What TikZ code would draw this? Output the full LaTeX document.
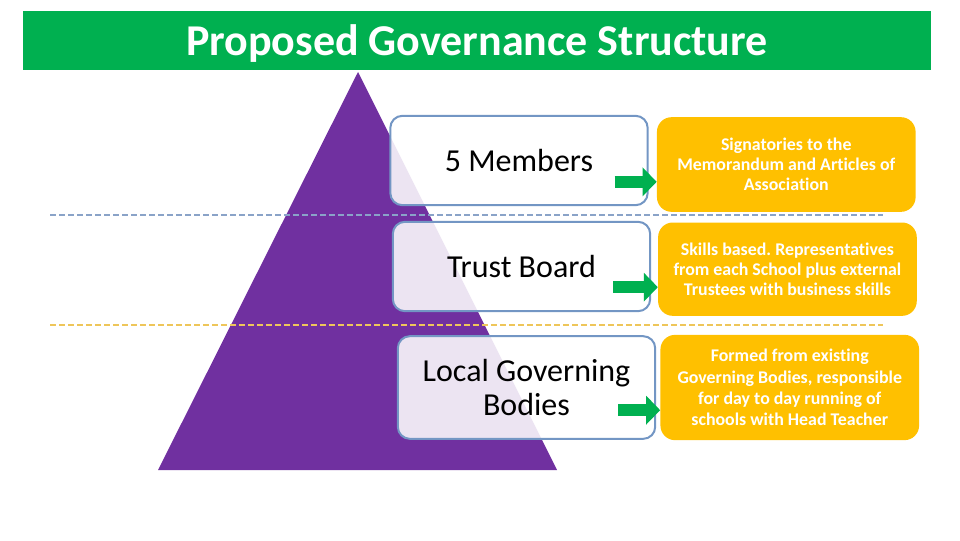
\documentclass[tikz,border=0pt]{standalone}
\usepackage{fontspec}
\setmainfont[Ligatures={NoCommon}]{Carlito}
\frenchspacing
\usepackage{xcolor}
\usepackage{tikz}
\usetikzlibrary{arrows.meta, positioning}
\definecolor{gvPurple}{HTML}{7030A0}
\definecolor{gvGreen}{HTML}{00B050}
\definecolor{gvGold}{HTML}{FFC000}
\definecolor{gvBlue}{HTML}{7396C4}
\definecolor{gvDashA}{HTML}{8AA3C8}
\definecolor{gvDashB}{HTML}{EEC65A}

\begin{document}
\begin{tikzpicture}[
  x=0.75pt, y=-0.75pt,
  lvl/.style={draw=gvBlue, line width=1.5pt, fill=white, fill opacity=0.87, text opacity=1,
              rounded corners=9pt, minimum width=193pt, align=center,
              font=\fontsize{24}{26}\selectfont},
  note/.style={fill=gvGold, rounded corners=11pt, minimum width=194pt, align=center,
               text=white, font=\bfseries\fontsize{13.4}{14.8}\selectfont},
  arr/.style={-{Triangle[length=10.5pt, width=21pt]}, draw=gvGreen, line width=9pt},
  sepline/.style={dashed, dash pattern=on 4.5pt off 2.25pt, line width=0.8pt},
]
\useasboundingbox (0,0) rectangle (960,540);

% title bar
\node[fill=gvGreen, minimum width=681pt, minimum height=44.25pt, text=white, text depth=1pt,
      font=\bfseries\fontsize{33}{36}\selectfont] (title) at (477,40.5) {Proposed Governance Structure};

% pyramid
\fill[gvPurple] (358,72) -- (557,470) -- (158,470) -- cycle;

% level separators
\draw[sepline, draw=gvDashA] (50,215) -- (883,215);
\draw[sepline, draw=gvDashB] (50,325) -- (883,325);

% levels
\node[lvl, minimum height=67pt] (members) at (519,160.5) {5 Members};
\node[lvl, minimum height=67pt] (board) at (521.5,266.5) {Trust Board};
\node[lvl, minimum height=77pt] (lgb) at (526.5,387.5) {Local Governing\\Bodies};

% notes
\node[note, minimum height=71pt, right=6pt of members, yshift=-3pt] (nMembers)
  {Signatories to the\\Memorandum and Articles of\\Association};
\node[note, minimum height=70pt, right=5pt of board, yshift=-2pt] (nBoard)
  {Skills based. Representatives\\from each School plus external\\Trustees with business skills};
\node[note, minimum height=79pt, right=3pt of lgb, font=\bfseries\fontsize{13.4}{16}\selectfont] (nLgb)
  {Formed from existing\\Governing Bodies, responsible\\for day to day running of\\schools with Head Teacher};

% arrows
\coordinate (t1) at ([xshift=-25.5pt, yshift=-16pt]members.east);
\coordinate (t2) at ([xshift=-28.5pt, yshift=-15.5pt]board.east);
\coordinate (t3) at ([xshift=-28.5pt, yshift=-17pt]lgb.east);
\draw[arr] (t1) -- (t1 -| nMembers.west);
\draw[arr] (t2) -- (t2 -| nBoard.west);
\draw[arr] (t3) -- (t3 -| nLgb.west);
\end{tikzpicture}
\end{document}
